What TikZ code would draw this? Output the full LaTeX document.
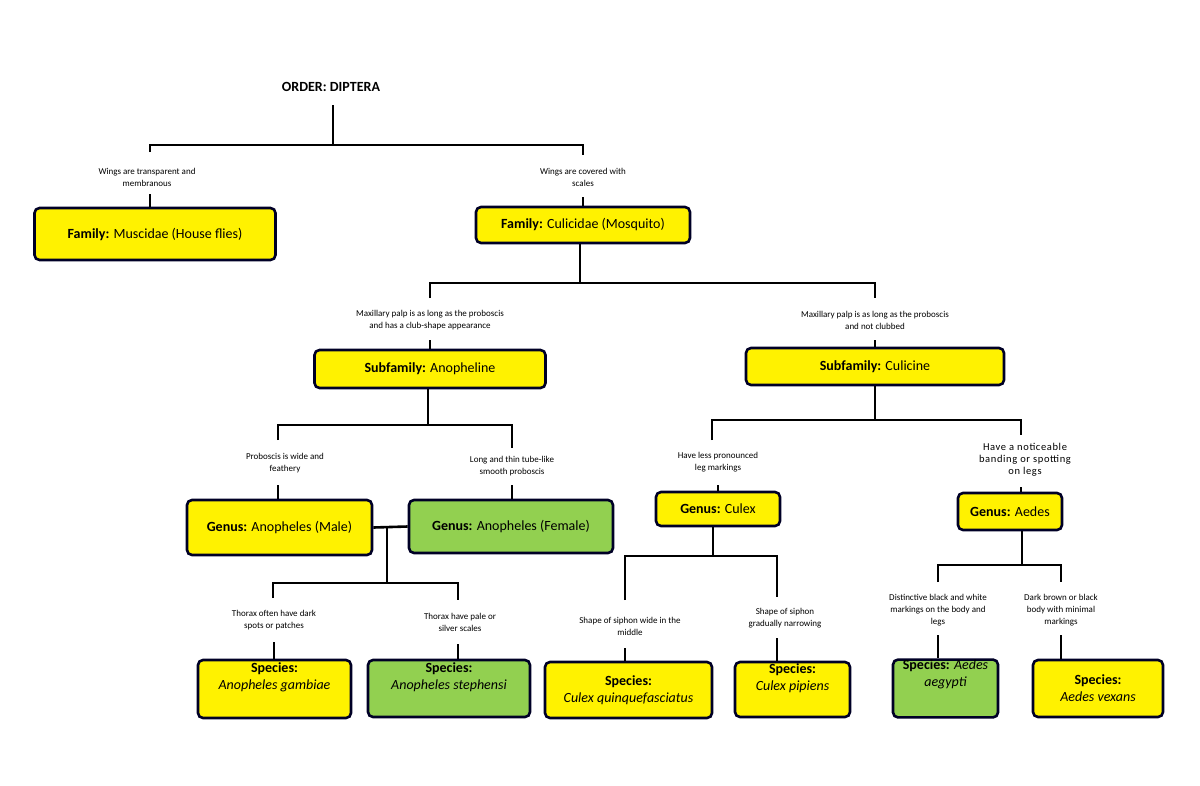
\documentclass[tikz,border=0pt]{standalone}
\usepackage{fontspec}
\setmainfont{Carlito}
\begin{document}
\begin{tikzpicture}[x=1pt,y=-1pt,
 box/.style={draw=black!85!blue,line width=2.6pt,rounded corners=5pt,fill=yellow,align=center,font=\fontsize{14}{17}\selectfont,inner sep=0pt},
 gbox/.style={box,fill=green!55!lime!80!black!90,fill=[HTML]{92D050}},
 lab/.style={align=center,font=\fontsize{9}{12}\selectfont,inner sep=0pt},
 ln/.style={line width=2.6pt,black}]
\definecolor{gr}{HTML}{92D050}
\useasboundingbox (0,0) rectangle (1200,785);
\node[font=\bfseries\fontsize{14}{17}\selectfont] (title) at (331,87) {ORDER: DIPTERA};
% level 1
\node[lab] (l1a) at (147,177) {Wings are transparent and\\membranous};
\node[lab] (l1b) at (583,177) {Wings are covered with\\scales};
\node[box,minimum width=241,minimum height=52] (musc) at (155,234) {\textbf{Family:} Muscidae (House flies)};
\node[box,minimum width=214,minimum height=36] (culi) at (583,225) {\textbf{Family:} Culicidae (Mosquito)};
\coordinate (j1) at (333,145);
\draw[ln] (333,105) -- (j1);
\draw[ln] (150,152) |- (j1) -| (583,155);
\draw[ln] (l1a.south)+(3,8) -- (musc.north -| 150,0);
\draw[ln] (583,197) -- (culi.north);
% level 2
\node[lab] (l2a) at (430,320) {Maxillary palp is as long as the proboscis\\and has a club-shape appearance};
\node[lab] (l2b) at (875,320) {Maxillary palp is as long as the proboscis\\and not clubbed};
\node[box,minimum width=231,minimum height=38] (anoph) at (430,369) {\textbf{Subfamily:} Anopheline};
\node[box,minimum width=258,minimum height=37] (culic) at (875,366.5) {\textbf{Subfamily:} Culicine};
\coordinate (j2) at (580,283);
\draw[ln] (culi.south -| j2) -- (j2);
\draw[ln] (430,298) |- (j2) -| (875,298);
\draw[ln] (430,340) -- (anoph.north);
\draw[ln] (875,340) -- (culic.north);
% anopheline genera
\node[lab] (l3a) at (285,463) {Proboscis is wide and\\feathery};
\node[lab] (l3b) at (512,466) {Long and thin tube-like\\smooth proboscis};
\node[box,minimum width=185,minimum height=55] (male) at (279.5,527.5) {\textbf{Genus:} Anopheles (Male)};
\node[box,fill=gr,minimum width=204,minimum height=53] (fem) at (511,526.5) {\textbf{Genus:} Anopheles (Female)};
\coordinate (j3) at (428,425);
\draw[ln] (anoph.south -| j3) -- (j3);
\draw[ln] (278,440) |- (j3) -| (512,448);
\draw[ln] (278,485) -- (male.north -| 278,0);
\draw[ln] (512,485) -- (fem.north -| 512,0);
% anopheles species
\coordinate (jm) at (387,527);
\coordinate (j4) at (387,583);
\draw[ln] (male.east) -- (fem.west);
\draw[ln] (jm) -- (j4);
\draw[ln] (273,598) |- (j4) -| (458,600);
\node[lab] (l4a) at (274,620) {Thorax often have dark\\spots or patches};
\node[lab] (l4b) at (460,622) {Thorax have pale or\\silver scales};
\node[box,minimum width=153,minimum height=58] (gamb) at (274.5,689) {\textbf{Species:}\\\textit{Anopheles gambiae}\\[8pt]};
\node[box,fill=gr,minimum width=162,minimum height=57] (steph) at (449,688.5) {\textbf{Species:}\\\textit{Anopheles stephensi}\\[8pt]};
\draw[ln] (274,642) -- (gamb.north -| 274,0);
\draw[ln] (458,644) -- (steph.north -| 458,0);
% culicine genera
\node[lab] (l5a) at (718,462) {Have less pronounced\\leg markings};
\node[lab,font=\fontsize{10.5}{12}\selectfont\addfontfeatures{LetterSpace=6}] (l5b) at (1025,460) {Have a noticeable\\banding or spotting\\on legs};
\node[box,minimum width=124,minimum height=34] (culex) at (718,509) {\textbf{Genus:} Culex};
\node[box,minimum width=104,minimum height=37] (aedes) at (1010,511.5) {\textbf{Genus:} Aedes};
\coordinate (j5) at (875,420);
\draw[ln] (culic.south) -- (j5);
\draw[ln] (712,440) |- (j5) -| (1021,435);
\draw[ln] (718,485) -- (culex.north);
\draw[ln] (1021,487) -- (aedes.north -| 1021,0);
% culex species
\coordinate (j6) at (713,556);
\draw[ln] (culex.south -| j6) -- (j6);
\draw[ln] (625,600) |- (j6) -| (777,597);
\node[lab] (l6a) at (630,626) {Shape of siphon wide in the\\middle};
\node[lab] (l6b) at (785,618) {Shape of siphon\\gradually narrowing};
\node[box,minimum width=167,minimum height=56] (quin) at (628.5,690) {\textbf{Species:}\\\textit{Culex quinquefasciatus}};
\node[box,minimum width=115,minimum height=55] (pip) at (792.5,689.5) {\textbf{Species:}\\\textit{Culex pipiens}\\[8pt]};
\draw[ln] (625,648) -- (quin.north -| 625,0);
\draw[ln] (777,638) -- (pip.north -| 777,0);
% aedes species
\coordinate (j7) at (1022,565);
\draw[ln] (aedes.south -| j7) -- (j7);
\draw[ln] (938,582) |- (j7) -| (1061,582);
\node[lab] (l7a) at (938,610) {Distinctive black and white\\markings on the body and\\legs};
\node[lab] (l7b) at (1061,610) {Dark brown or black\\body with minimal\\markings};
\node[box,fill=gr,minimum width=105,minimum height=57] (aeg) at (945.5,688.5) {\textbf{Species:} \textit{Aedes}\\\textit{aegypti}\\[14pt]};
\node[box,minimum width=130,minimum height=57] (vex) at (1098,688.5) {\textbf{Species:}\\\textit{Aedes vexans}};
\draw[ln] (938,635) -- (aeg.north -| 938,0);
\draw[ln] (1061,635) -- (vex.north -| 1061,0);
\end{tikzpicture}
\end{document}
